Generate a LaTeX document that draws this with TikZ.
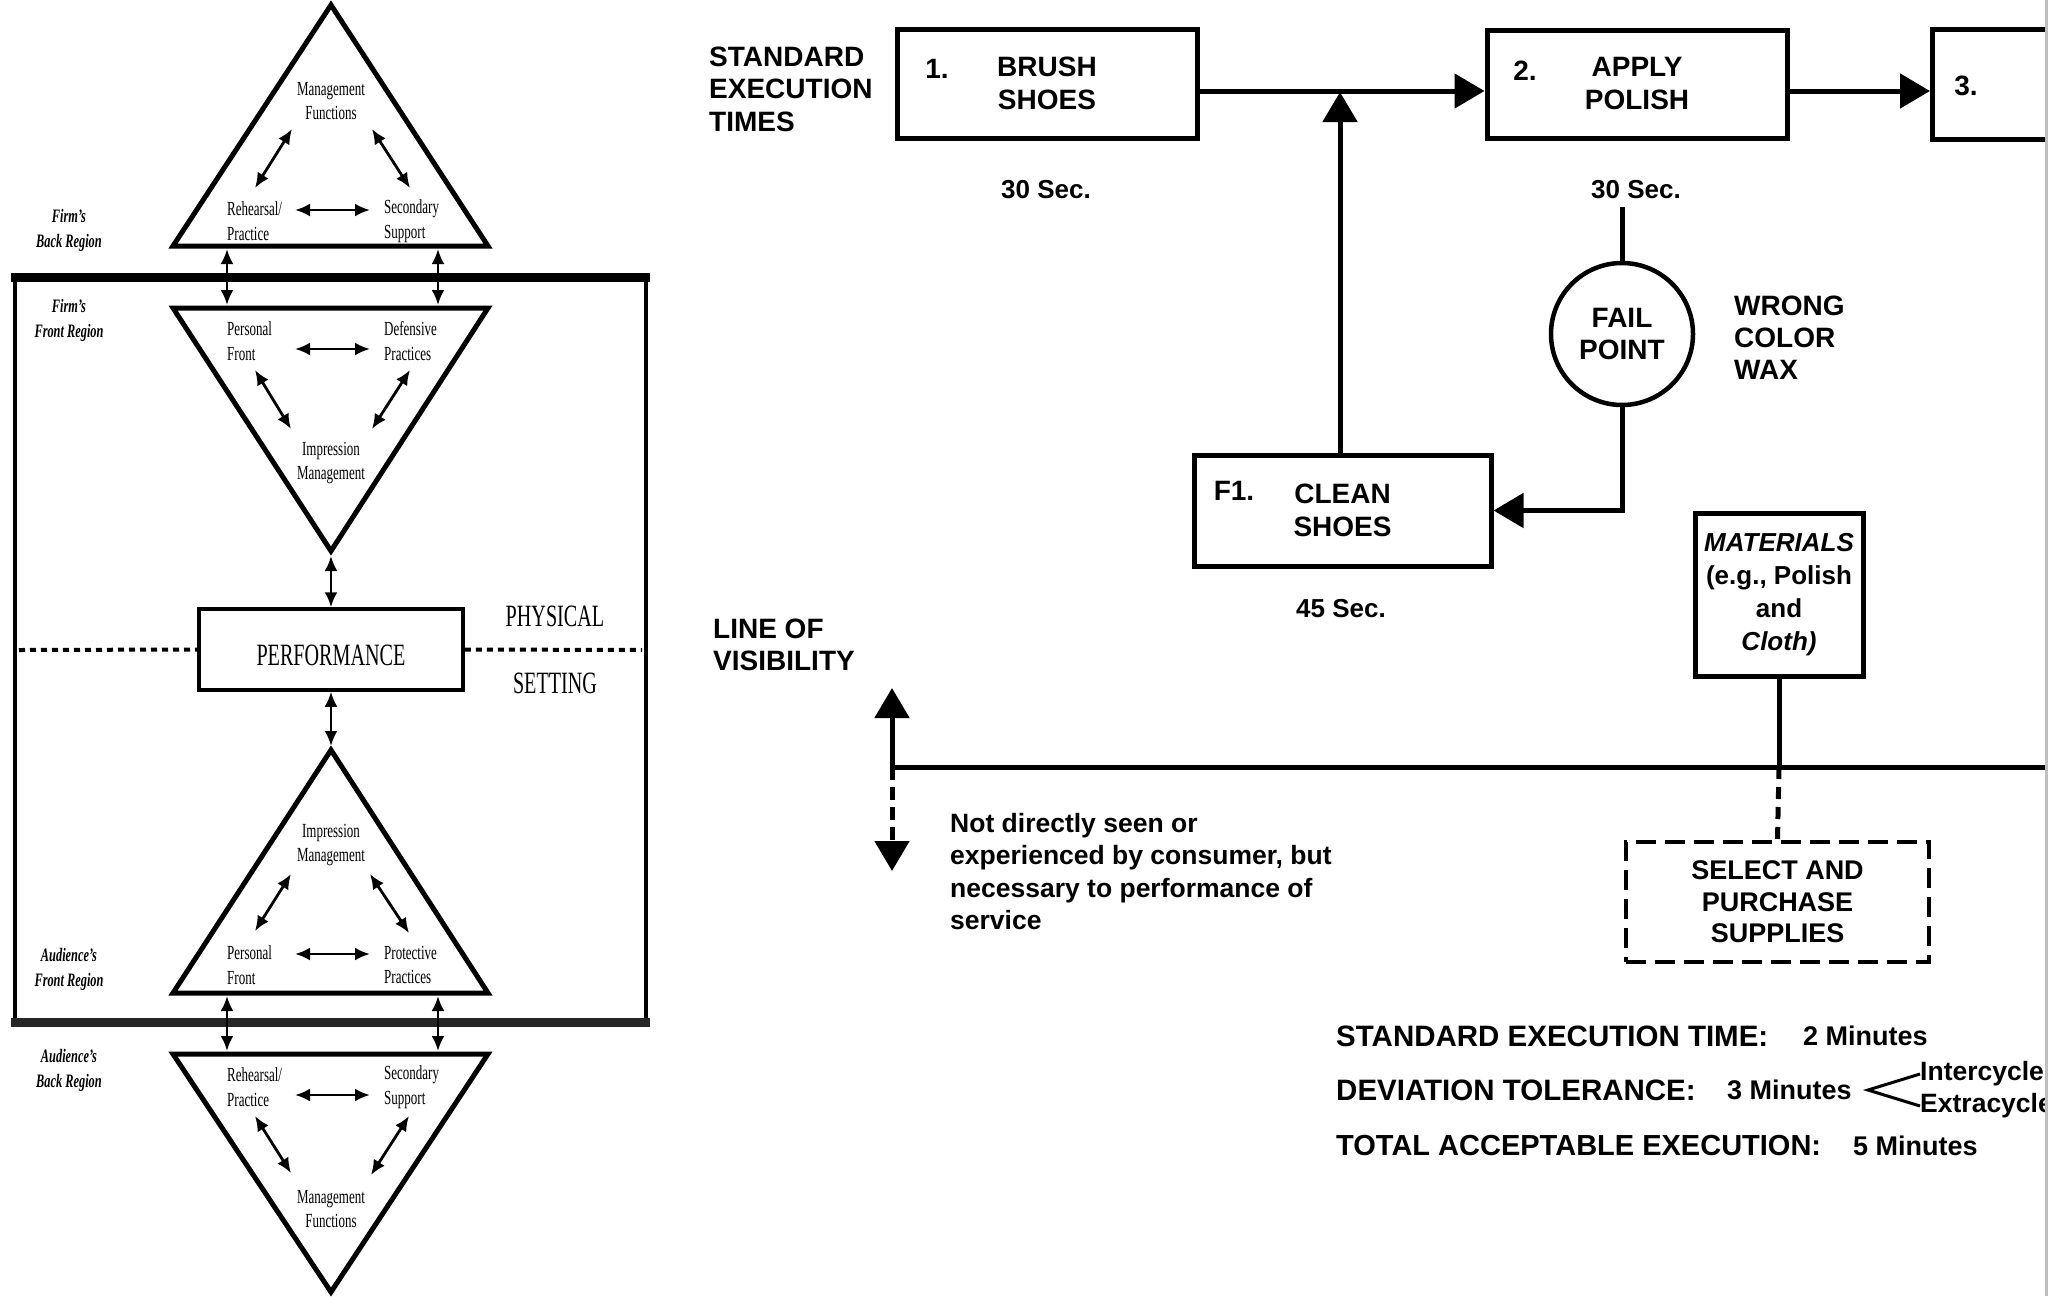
\documentclass[tikz,border=0pt]{standalone}
\usepackage{fontspec}
\setmainfont{Liberation Serif}
\newfontfamily\cserif[FakeStretch=0.65]{Liberation Serif}
\newfontfamily\lsans{Liberation Sans}
\usetikzlibrary{arrows.meta,calc}
\tikzset{
  tri/.style={line width=5pt, line join=miter},
  darr/.style={{Latex[length=15pt,width=13pt]}-{Latex[length=15pt,width=13pt]}, line width=2.8pt},
  ltxt/.style={inner sep=0pt, font=\cserif\fontsize{20}{24.5}\selectfont, align=left, anchor=west},
  ctxt/.style={inner sep=0pt, font=\cserif\fontsize{20}{24.5}\selectfont, align=center},
  side/.style={inner sep=0pt, font=\cserif\bfseries\itshape\fontsize{19}{25}\selectfont, align=center},
  bigt/.style={inner sep=0pt, font=\cserif\fontsize{31}{36}\selectfont},
  rb/.style={draw, line width=5pt, inner sep=0pt, font=\lsans\bfseries\fontsize{28}{33}\selectfont, align=center},
  rt/.style={inner sep=0pt, font=\lsans\bfseries\fontsize{28}{33}\selectfont},
  rarr/.style={-{Triangle[length=30pt,width=34pt]}, line width=5pt},
  dotl/.style={line width=4pt, dash pattern=on 6pt off 5pt},
}
\begin{document}
\begin{tikzpicture}[x=1pt,y=-1pt]
\useasboundingbox (0,0) rectangle (2048,1296);
\fill[white] (0,0) rectangle (2048,1296);
\clip (0,0) rectangle (2048,1296);

% ================= LEFT: dramaturgy =================
% outer physical-setting frame
\draw[line width=4pt] (15,277) rectangle (646,1022);
\draw[line width=9pt] (11,277) -- (650,277);
\draw[line width=9pt, black!85] (11,1022) -- (650,1022);

% side labels
\node[side] (lb1) at (69,230) {Firm’s\\Back Region};
\node[side] (lb2) at (69,320) {Firm’s\\Front Region};
\node[side] (lb3) at (69,969) {Audience’s\\Front Region};
\node[side] (lb4) at (69,1070) {Audience’s\\Back Region};

% ---- T1 (up) ----
\coordinate (t1a) at (331,5); \coordinate (t1l) at (173,246); \coordinate (t1r) at (488,246);
\draw[tri] (t1a) -- (t1r) -- (t1l) -- cycle;
\node[ctxt] (t1n1) at (331,101) {Management\\Functions};
\node[ltxt] (t1n2) at (227,221) {Rehearsal/\\Practice};
\node[ltxt] (t1n3) at (384,221) {Secondary\\Support};
\coordinate (t1h1) at (295,210); \coordinate (t1h2) at (370,210);
\coordinate (t1d1) at (255,188); \coordinate (t1d2) at (292,129);
\coordinate (t1e1) at (372,129); \coordinate (t1e2) at (410,188);
\draw[darr] (t1h1) -- (t1h2);
\draw[darr] (t1d1) -- (t1d2);
\draw[darr] (t1e1) -- (t1e2);

% ---- T2 (down) ----
\coordinate (t2l) at (173,308); \coordinate (t2r) at (488,308); \coordinate (t2a) at (331,551);
\draw[tri] (t2l) -- (t2r) -- (t2a) -- cycle;
\node[ltxt] (t2n1) at (227,341) {Personal\\Front};
\node[ltxt] (t2n2) at (384,341) {Defensive\\Practices};
\node[ctxt] (t2n3) at (331,463) {Impression\\Management};
\coordinate (t2h1) at (295,349); \coordinate (t2h2) at (370,349);
\coordinate (t2d1) at (255,370); \coordinate (t2d2) at (291,429);
\coordinate (t2e1) at (410,370); \coordinate (t2e2) at (372,429);
\draw[darr] (t2h1) -- (t2h2);
\draw[darr] (t2d1) -- (t2d2);
\draw[darr] (t2e1) -- (t2e2);

% connectors T1 - T2
\coordinate (v1a) at (227,249); \coordinate (v1b) at (227,305);
\coordinate (v2a) at (438,249); \coordinate (v2b) at (438,305);
\draw[darr] (v1a) -- (v1b);
\draw[darr] (v2a) -- (v2b);

% performance
\node[draw, line width=3.5pt, minimum width=264pt, minimum height=81pt, inner sep=0pt] (perf) at (331,649.5) {};
\node[bigt] (perft) at (331,655) {PERFORMANCE};
\node[bigt] (phys) at (555,616) {PHYSICAL};
\node[bigt] (sett) at (555,683) {SETTING};
\coordinate (dlt) at (19,650); \coordinate (drt) at (642,650);
\draw[dotl] (dlt) -- (perf.west);
\draw[dotl] (perf.east) -- (drt);
\coordinate (pa1) at (331,556);
\coordinate (pa2) at (331,746);
\draw[darr] (pa1) -- (perf.north);
\draw[darr] (perf.south) -- (pa2);

% ---- T3 (up) ----
\coordinate (t3a) at (331,750); \coordinate (t3l) at (173,993); \coordinate (t3r) at (488,993);
\draw[tri] (t3a) -- (t3r) -- (t3l) -- cycle;
\node[ctxt] (t3n1) at (331,845) {Impression\\Management};
\node[ltxt] (t3n2) at (227,965) {Personal\\Front};
\node[ltxt] (t3n3) at (384,965) {Protective\\Practices};
\coordinate (t3h1) at (295,954); \coordinate (t3h2) at (370,954);
\coordinate (t3d1) at (255,931); \coordinate (t3d2) at (291,874);
\coordinate (t3e1) at (370,874); \coordinate (t3e2) at (409,933);
\draw[darr] (t3h1) -- (t3h2);
\draw[darr] (t3d1) -- (t3d2);
\draw[darr] (t3e1) -- (t3e2);

% connectors T3 - T4
\coordinate (v3a) at (227,996); \coordinate (v3b) at (227,1051);
\coordinate (v4a) at (438,996); \coordinate (v4b) at (438,1051);
\draw[darr] (v3a) -- (v3b);
\draw[darr] (v4a) -- (v4b);

% ---- T4 (down) ----
\coordinate (t4l) at (173,1054); \coordinate (t4r) at (488,1054); \coordinate (t4a) at (331,1292);
\draw[tri] (t4l) -- (t4r) -- (t4a) -- cycle;
\node[ltxt] (t4n1) at (227,1087) {Rehearsal/\\Practice};
\node[ltxt] (t4n2) at (384,1087) {Secondary\\Support};
\node[ctxt] (t4n3) at (331,1209) {Management\\Functions};
\coordinate (t4h1) at (295,1095); \coordinate (t4h2) at (370,1095);
\coordinate (t4d1) at (255,1116); \coordinate (t4d2) at (291,1173);
\coordinate (t4e1) at (409,1116); \coordinate (t4e2) at (371,1175);
\draw[darr] (t4h1) -- (t4h2);
\draw[darr] (t4d1) -- (t4d2);
\draw[darr] (t4e1) -- (t4e2);

% ================= RIGHT: blueprint =================
\node[rt, anchor=west, align=left, font=\lsans\bfseries\fontsize{28}{32.5}\selectfont] (setl) at (709,89) {STANDARD\\EXECUTION\\TIMES};

\node[rb, minimum width=300pt, minimum height=109pt] (b1) at (1047,83.5) {BRUSH\\SHOES};
\node[rt] (b1n) at (937,69) {1.};
\node[rb, minimum width=300pt, minimum height=108pt] (b2) at (1637,84) {APPLY\\POLISH};
\node[rt] (b2n) at (1525,71) {2.};
\node[rb, minimum width=170pt, minimum height=110pt, anchor=west] (b3) at (1930,84) {};
\node[rt] (b3n) at (1966,86) {3.};

\coordinate (fl) at (0,91);
\draw[rarr] (b1.east |- fl) -- (b2.west |- fl);
\draw[rarr] (b2.east |- fl) -- (b3.west |- fl);

\node[rt, font=\lsans\bfseries\fontsize{26}{30}\selectfont] (s1) at (1046,190) {30 Sec.};
\node[rt, font=\lsans\bfseries\fontsize{26}{30}\selectfont] (s2) at (1636,190) {30 Sec.};

\node[draw, circle, line width=4.5pt, minimum size=142pt, inner sep=0pt, align=center, font=\lsans\bfseries\fontsize{28}{32}\selectfont] (fp) at (1622,334) {FAIL\\POINT};
\node[rt, anchor=west, align=left, font=\lsans\bfseries\fontsize{28}{32}\selectfont] (wcw) at (1734,338) {WRONG\\COLOR\\WAX};

\node[rb, minimum width=297pt, minimum height=111pt] (f1) at (1342.5,510.5) {CLEAN\\SHOES};
\node[rt] (f1n) at (1234,491) {F1.};
\node[rt, font=\lsans\bfseries\fontsize{26}{30}\selectfont] (s3) at (1341,609) {45 Sec.};

\draw[line width=5pt] ([yshift=-8pt]s2.south -| fp.north) -- (fp.north);
\draw[rarr] (fp.south) -- (fp.south |- f1.east) -- (f1.east);
\coordinate (jn) at (1340,92);
\draw[rarr] (f1.north -| jn) -- (jn);

\node[rb, minimum width=168pt, minimum height=163pt, font=\lsans\bfseries\fontsize{26}{33}\selectfont] (mat) at (1779,594.5) {\textit{MATERIALS}\\(e.g., Polish\\and\\\textit{Cloth)}};

% line of visibility
\node[rt, anchor=west, align=left, font=\lsans\bfseries\fontsize{28}{32}\selectfont] (lov) at (713,645) {LINE OF\\VISIBILITY};
\coordinate (lv0) at (892,767);
\coordinate (lv1) at (2060,767);
\coordinate (lvu) at (892,688);
\coordinate (lvd) at (892,871);
\draw[line width=5pt] (lv0) -- (lv1);
\draw[rarr] (lv0) -- (lvu);
\draw[rarr, dash pattern=on 13pt off 7pt] (lv0) -- (lvd);

\node[rt, anchor=west, align=left, font=\lsans\bfseries\fontsize{26.5}{32.5}\selectfont] (nds) at (950,871.5) {Not directly seen or\\experienced by consumer, but\\necessary to performance of\\service};

\node[rb, line width=4.5pt, dash pattern=on 20pt off 9pt, minimum width=303pt, minimum height=120pt, font=\lsans\bfseries\fontsize{27}{31.5}\selectfont] (sel) at (1777.5,902) {SELECT AND\\PURCHASE\\SUPPLIES};
\coordinate (mv) at (mat.south |- lv0);
\draw[line width=5pt] (mat.south) -- (mv);
\draw[line width=5pt, dash pattern=on 12pt off 8pt] (mv) -- (sel.north);

% summary
\node[rt, anchor=west, font=\lsans\bfseries\fontsize{29.5}{33}\selectfont] (se1) at (1336,1036) {STANDARD EXECUTION TIME:};
\node[rt, anchor=west, font=\lsans\bfseries\fontsize{27}{33}\selectfont] (se2) at (1803,1036) {2 Minutes};
\node[rt, anchor=west, font=\lsans\bfseries\fontsize{29.5}{33}\selectfont] (dt1) at (1336,1090) {DEVIATION TOLERANCE:};
\node[rt, anchor=west, font=\lsans\bfseries\fontsize{27}{33}\selectfont] (dt2) at (1727,1090) {3 Minutes};
\node[rt, anchor=west, font=\lsans\bfseries\fontsize{26.5}{30}\selectfont] (ic) at (1920,1074) {Intercycle};
\node[rt, anchor=west, font=\lsans\bfseries\fontsize{26.5}{30}\selectfont] (ec) at (1920,1106) {Extracycle};
\coordinate (lt0) at (1868,1090);
\draw[line width=3pt] (ic.west) -- (lt0) -- (ec.west);
\node[rt, anchor=west, font=\lsans\bfseries\fontsize{29}{33}\selectfont] (ta1) at (1336,1146) {TOTAL ACCEPTABLE EXECUTION:};
\node[rt, anchor=west, font=\lsans\bfseries\fontsize{27}{33}\selectfont] (ta2) at (1853,1146) {5 Minutes};

% scan edge
\draw[black!25, line width=3pt] (2046,0) -- (2046,1296);
\end{tikzpicture}
\end{document}
